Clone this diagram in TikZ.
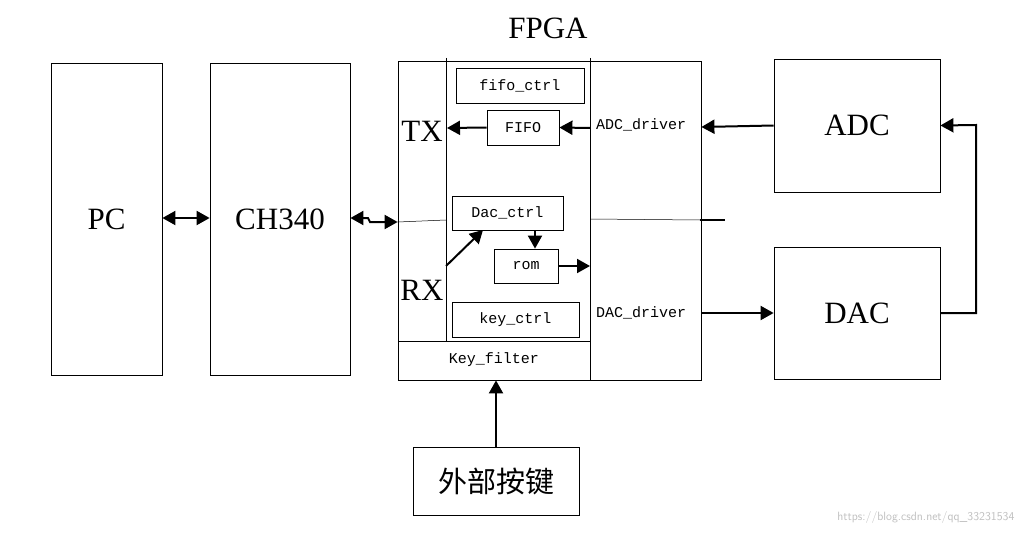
\documentclass[tikz,border=0pt]{standalone}
\usepackage{fontspec}
\setmainfont{Liberation Serif}
\setmonofont{Liberation Mono}
\newfontfamily\cjk{Noto Sans CJK SC}
\usetikzlibrary{positioning, arrows.meta}

\begin{document}
\begin{tikzpicture}[x=1pt, y=-1pt,
    blk/.style={draw, line width=0.8pt, inner sep=0pt},
    sub/.style={draw, line width=0.8pt, inner sep=0pt, font=\ttfamily\fontsize{15}{15}\selectfont},
    big/.style={font=\fontsize{31}{31}\selectfont},
    lbl/.style={font=\ttfamily\fontsize{15}{15}\selectfont, inner sep=0pt},
    arr/.style={line width=2pt, -{Triangle[length=13pt, width=14pt]}},
    darr/.style={line width=2pt, {Triangle[length=13pt, width=14pt]}-{Triangle[length=13pt, width=14pt]}}]
    \useasboundingbox (0,0) rectangle (1026,535);

    % outer blocks
    \node[blk, minimum width=111pt, minimum height=312pt, big] (pc) at (106.5,219) {PC};
    \node[blk, minimum width=140pt, minimum height=312pt, big] (ch) at (280,219) {CH340};
    \node[blk, minimum width=303pt, minimum height=319pt] (fpga) at (549.5,220.5) {};
    \node[big] at (548,28) {FPGA};
    \node[blk, minimum width=166pt, minimum height=133pt, big] (adc) at (857,125.5) {ADC};
    \node[blk, minimum width=166pt, minimum height=132pt, big] (dac) at (857,313) {DAC};
    \node[blk, minimum width=166pt, minimum height=68pt, font=\cjk\fontsize{29}{29}\selectfont] (key) at (496,481) {外部按键};

    % FPGA inner partitions
    \draw[line width=0.8pt] (446,58) -- (446,341);
    \draw[line width=0.8pt] (590,58) -- (590,380);
    \draw[line width=0.8pt] (398,341) -- (590,341);
    \coordinate (rxin) at (446,220);
    \coordinate (mid) at (590,219);
    \coordinate (midend) at (725,220);

    % inner modules
    \node[sub, minimum width=128pt, minimum height=35pt] (fctrl) at (520,85.5) {fifo\_ctrl};
    \node[sub, minimum width=72pt, minimum height=35pt] (fifo) at (523,127.5) {FIFO};
    \node[sub, minimum width=111pt, minimum height=34pt] (dctrl) at (507.5,213) {Dac\_ctrl};
    \node[sub, minimum width=64pt, minimum height=34pt] (rom) at (526,266) {rom};
    \node[sub, minimum width=127pt, minimum height=35pt] (kctrl) at (515.5,319.5) {key\_ctrl};
    \node[lbl] (kfilt) at (494,360) {Key\_filter};
    \node[lbl, anchor=west] (adrv) at (596,125) {ADC\_driver};
    \node[lbl, anchor=west] (ddrv) at (596,313) {DAC\_driver};
    \node[big, inner sep=0pt] (tx) at (422,131) {TX};
    \node[big, inner sep=0pt] (rx) at (422,290) {RX};

    % connectors
    \draw[darr] (pc.east |- 0,218) -- (ch.west |- 0,218);
    \draw[darr] (ch.east |- 0,218) -- (368,218) -- (370,222) -- (fpga.west |- 0,222);
    \draw[line width=0.5pt] (fpga.west |- 0,222) -- (rxin);
    \draw[line width=0.5pt] (mid) -- (700,220);
    \draw[line width=1.5pt] (700,220) -- (midend);
    \draw[arr] (adc.west) -- (fpga.east |- 0,127);
    \draw[arr] (590,128) -- (fifo.east);
    \draw[arr] (fifo.west) -- (447,128);
    \draw[arr] (446,266) -- (483,230);
    \draw[arr] (dctrl.south -| 535,0) -- (rom.north -| 535,0);
    \draw[arr] (rom.east) -- (590,266);
    \draw[arr] (fpga.east |- 0,313) -- (dac.west);
    \draw[arr] (dac.east) -- (976,313) -- (976,125) -- (adc.east);
    \draw[arr] (key.north) -- (fpga.south -| key.north);

    % watermark
    \node[font=\sffamily\fontsize{12}{12}\selectfont, text=gray!50, anchor=east] at (1018,517) {https://blog.csdn.net/qq\_33231534};
\end{tikzpicture}
\end{document}
